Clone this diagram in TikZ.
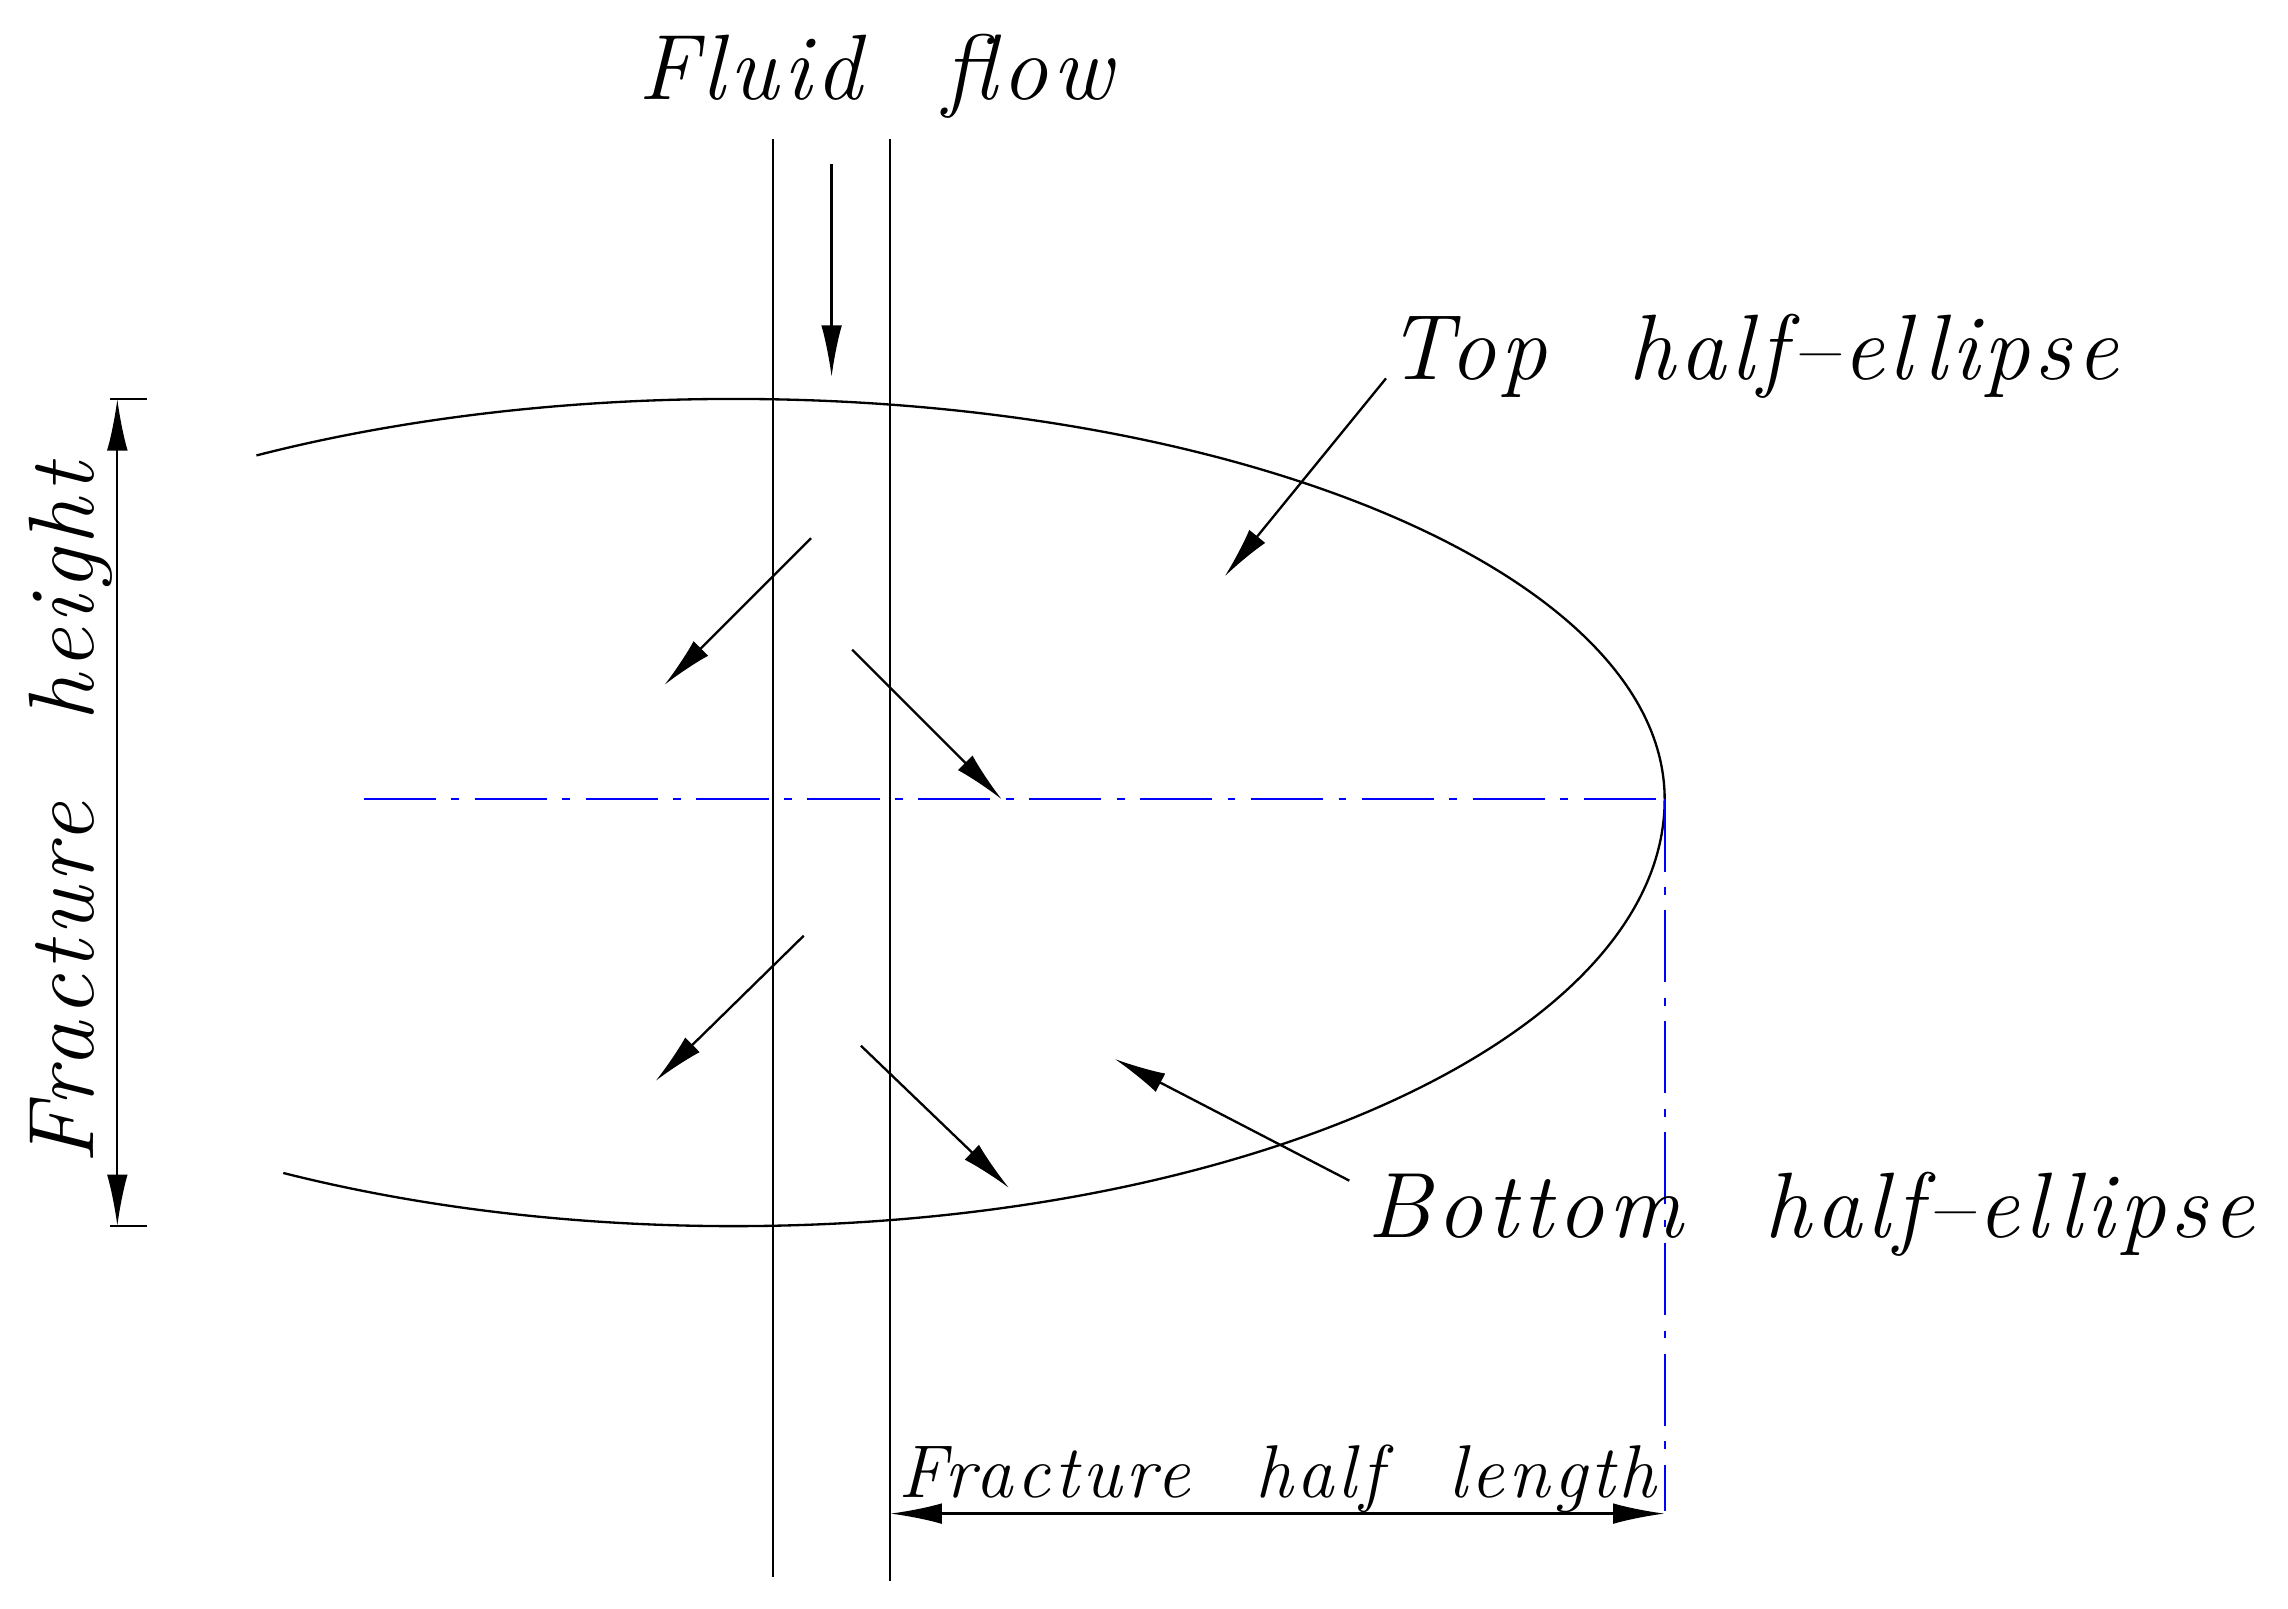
\documentclass[tikz,border=0pt]{standalone}
\usepackage{fontspec}
\setmainfont{Latin Modern Roman}[LetterSpace=5,WordSpace=2.2]
\usetikzlibrary{arrows.meta}
\begin{document}
\begin{tikzpicture}[x=0.01cm,y=-0.01cm,
  ln/.style={line width=0.45pt},
  arr/.style={ln,-{Latex[length=10pt,width=4pt]}},
  dimarr/.style={ln,{Latex[length=10pt,width=4pt]}-{Latex[length=10pt,width=4pt]}},
  cl/.style={blue,line width=0.45pt,dash pattern=on 14pt off 3pt on 1.5pt off 3pt},
  lab/.style={font=\fontsize{18}{21}\selectfont\itshape,inner sep=0pt}]
\useasboundingbox (0,0) rectangle (1560,1097);
% pipe
\coordinate (p1t) at (527,95); \coordinate (p1b) at (527,1075);
\coordinate (p2t) at (607,95); \coordinate (p2b) at (607,1078);
\draw[ln] (p1t) -- (p1b); \draw[ln] (p2t) -- (p2b);
\node[lab] (ff) at (597,52) {Fluid flow};
\coordinate (fa) at (567,112); \coordinate (fb) at (567,257);
\draw[arr] (fa) -- (fb);
% ellipse
\coordinate (tip) at (1135,545);
\draw[ln] (tip) arc[start angle=0,end angle=120.8,x radius=635,y radius=-273];
\draw[ln] (tip) arc[start angle=0,end angle=-118.9,x radius=635,y radius=-291];
% centre lines
\coordinate (cl0) at (248,545);
\coordinate (vb) at (1135,1030);
\draw[cl] (cl0) -- (tip);
\draw[cl] (tip) -- (vb);
% flow arrows
\coordinate (a1) at (553,367); \coordinate (b1) at (453,467);
\coordinate (a2) at (581,443); \coordinate (b2) at (683,545);
\coordinate (a3) at (548,638); \coordinate (b3) at (447,737);
\coordinate (a4) at (587,713); \coordinate (b4) at (688,810);
\draw[arr] (a1) -- (b1); \draw[arr] (a2) -- (b2);
\draw[arr] (a3) -- (b3); \draw[arr] (a4) -- (b4);
% labels
\node[lab,anchor=west] (top) at (945,243) {Top half{\normalfont\itshape–}ellipse};
\coordinate (ta) at (945,258); \coordinate (tb) at (835,393);
\draw[arr] (ta) -- (tb);
\node[lab,anchor=west] (bot) at (932,828) {Bottom half–ellipse};
\coordinate (ba) at (920,805); \coordinate (bb) at (760,722);
\draw[arr] (ba) -- (bb);
% half length dim
\coordinate (hl) at (607,1032); \coordinate (hr) at (1135,1032);
\draw[dimarr] (hl) -- (hr);
\node[font=\fontsize{14.5}{17}\selectfont\itshape,inner sep=0pt] (hlt) at (871,1008) {Fracture half length};
% height dim
\coordinate (vt) at (80,272); \coordinate (vbb) at (80,836);
\draw[dimarr] (vt) -- (vbb);
\coordinate (t1) at (75,272); \coordinate (t2) at (100,272);
\coordinate (t3) at (75,836); \coordinate (t4) at (100,836);
\draw[ln] (t1) -- (t2); \draw[ln] (t3) -- (t4);
\node[lab,rotate=90] (fh) at (48,555) {Fracture height};
\end{tikzpicture}
\end{document}
